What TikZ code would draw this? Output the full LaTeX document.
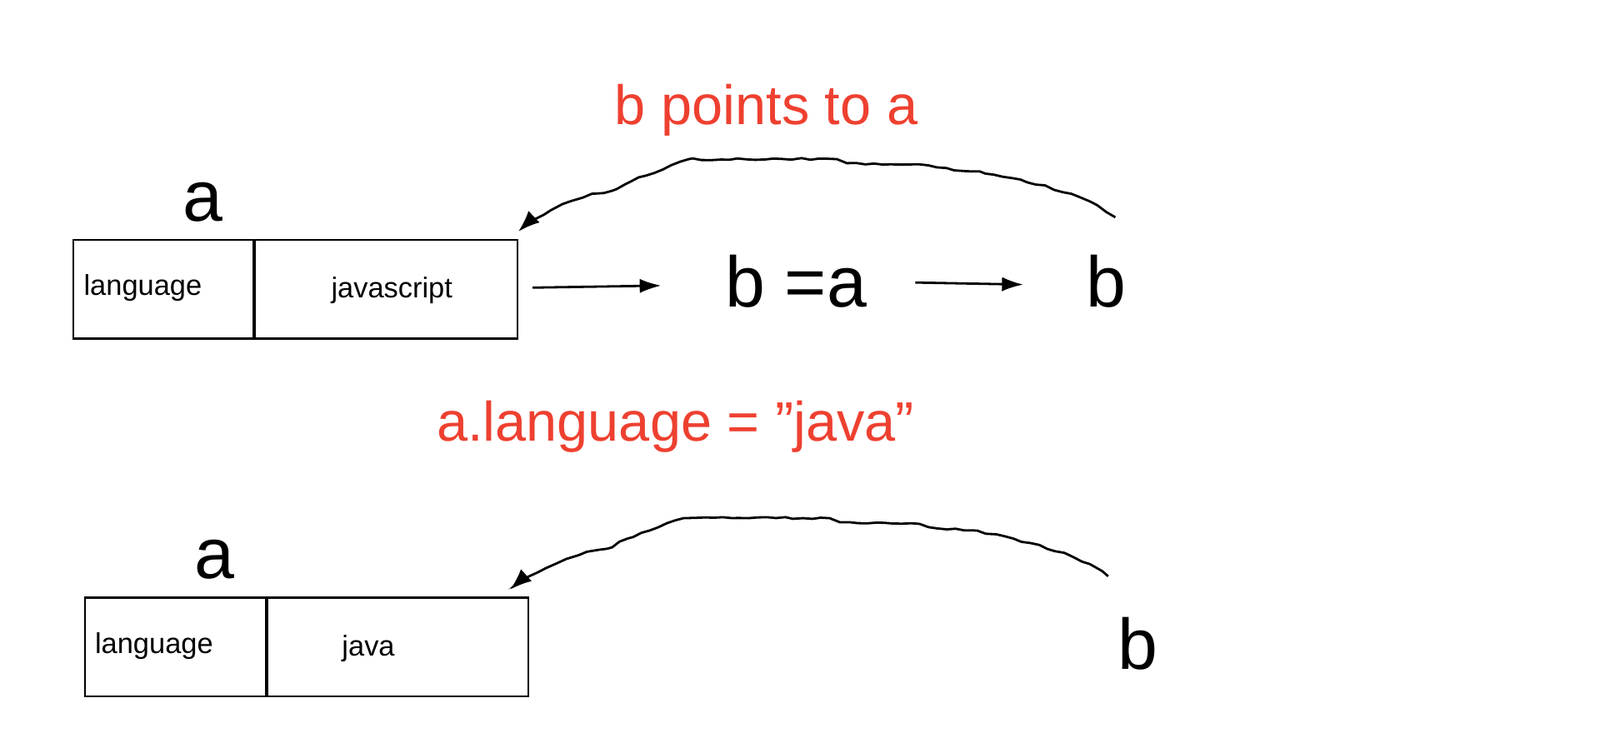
\documentclass[tikz,border=0pt]{standalone}
\usepackage{fontspec}
\setmainfont{Liberation Sans}
\usetikzlibrary{arrows.meta,decorations.pathmorphing}
\definecolor{redtxt}{RGB}{238,64,48}
\begin{document}
\begin{tikzpicture}[x=0.02cm,y=-0.02cm,
  big/.style={font=\fontsize{40}{40}\selectfont},
  redlab/.style={font=\fontsize{31}{31}\selectfont,text=redtxt},
  small/.style={font=\fontsize{16}{16}\selectfont},
  cell/.style={draw,line width=1pt},
  arr/.style={line width=1.3pt,-{Latex[length=12pt,width=8pt]}},
  wavy/.style={line width=1.3pt,decorate,decoration={random steps,segment length=5pt,amplitude=0.6pt},-{Latex[length=12pt,width=9pt]}}]
\useasboundingbox (0,0) rectangle (1568,718);
% top box
\draw[cell] (72,235) rectangle (507,332);
\draw[line width=1.8pt] (249,235) -- (249,332);
\node[small] (l1) at (140,282) {language};
\node[small] (j1) at (384,285) {javascript};
\node[big] (a1) at (199,198) {a};
\node[big] (beq) at (780,276) {b =a};
\node[big] (b1) at (1084,276) {b};
\node[redlab] (t1) at (751,108) {b points to a};
\coordinate (s1) at (522,282);
\coordinate (e1) at (648,280);
\coordinate (s2) at (897,277);
\coordinate (e2) at (1003,279);
\draw[arr] (s1) -- (e1);
\draw[arr] (s2) -- (e2);
\coordinate (c1s) at (1093,213);
\coordinate (c1e) at (508,227);
\draw[wavy] (c1s) -- (1075,201) -- (1050,190) -- (1000,176) -- (960,168) -- (935,167) -- (900,161) -- (830,160) -- (820,156) -- (675,156) -- (650,166) -- (620,177) -- (600,187) -- (580,190) -- (560,197) -- (540,206) -- (522,216) -- (c1e);
\node[redlab] (t2) at (662,418) {a.language = "java"};
% bottom box
\draw[cell] (83,586) rectangle (518,683);
\draw[line width=1.8pt] (261,586) -- (261,683);
\node[small] (l2) at (151,633) {language};
\node[small] (j2) at (361,636) {java};
\node[big] (a2) at (210,549) {a};
\node[big] (b2) at (1115,631) {b};
\coordinate (c2s) at (1086,565);
\coordinate (c2e) at (500,578);
\draw[wavy] (c2s) -- (1068,553) -- (1043,542) -- (993,528) -- (953,520) -- (928,519) -- (893,513) -- (823,512) -- (813,508) -- (670,508) -- (645,517) -- (615,528) -- (595,538) -- (575,541) -- (555,548) -- (535,557) -- (515,567) -- (c2e);
\end{tikzpicture}
\end{document}
